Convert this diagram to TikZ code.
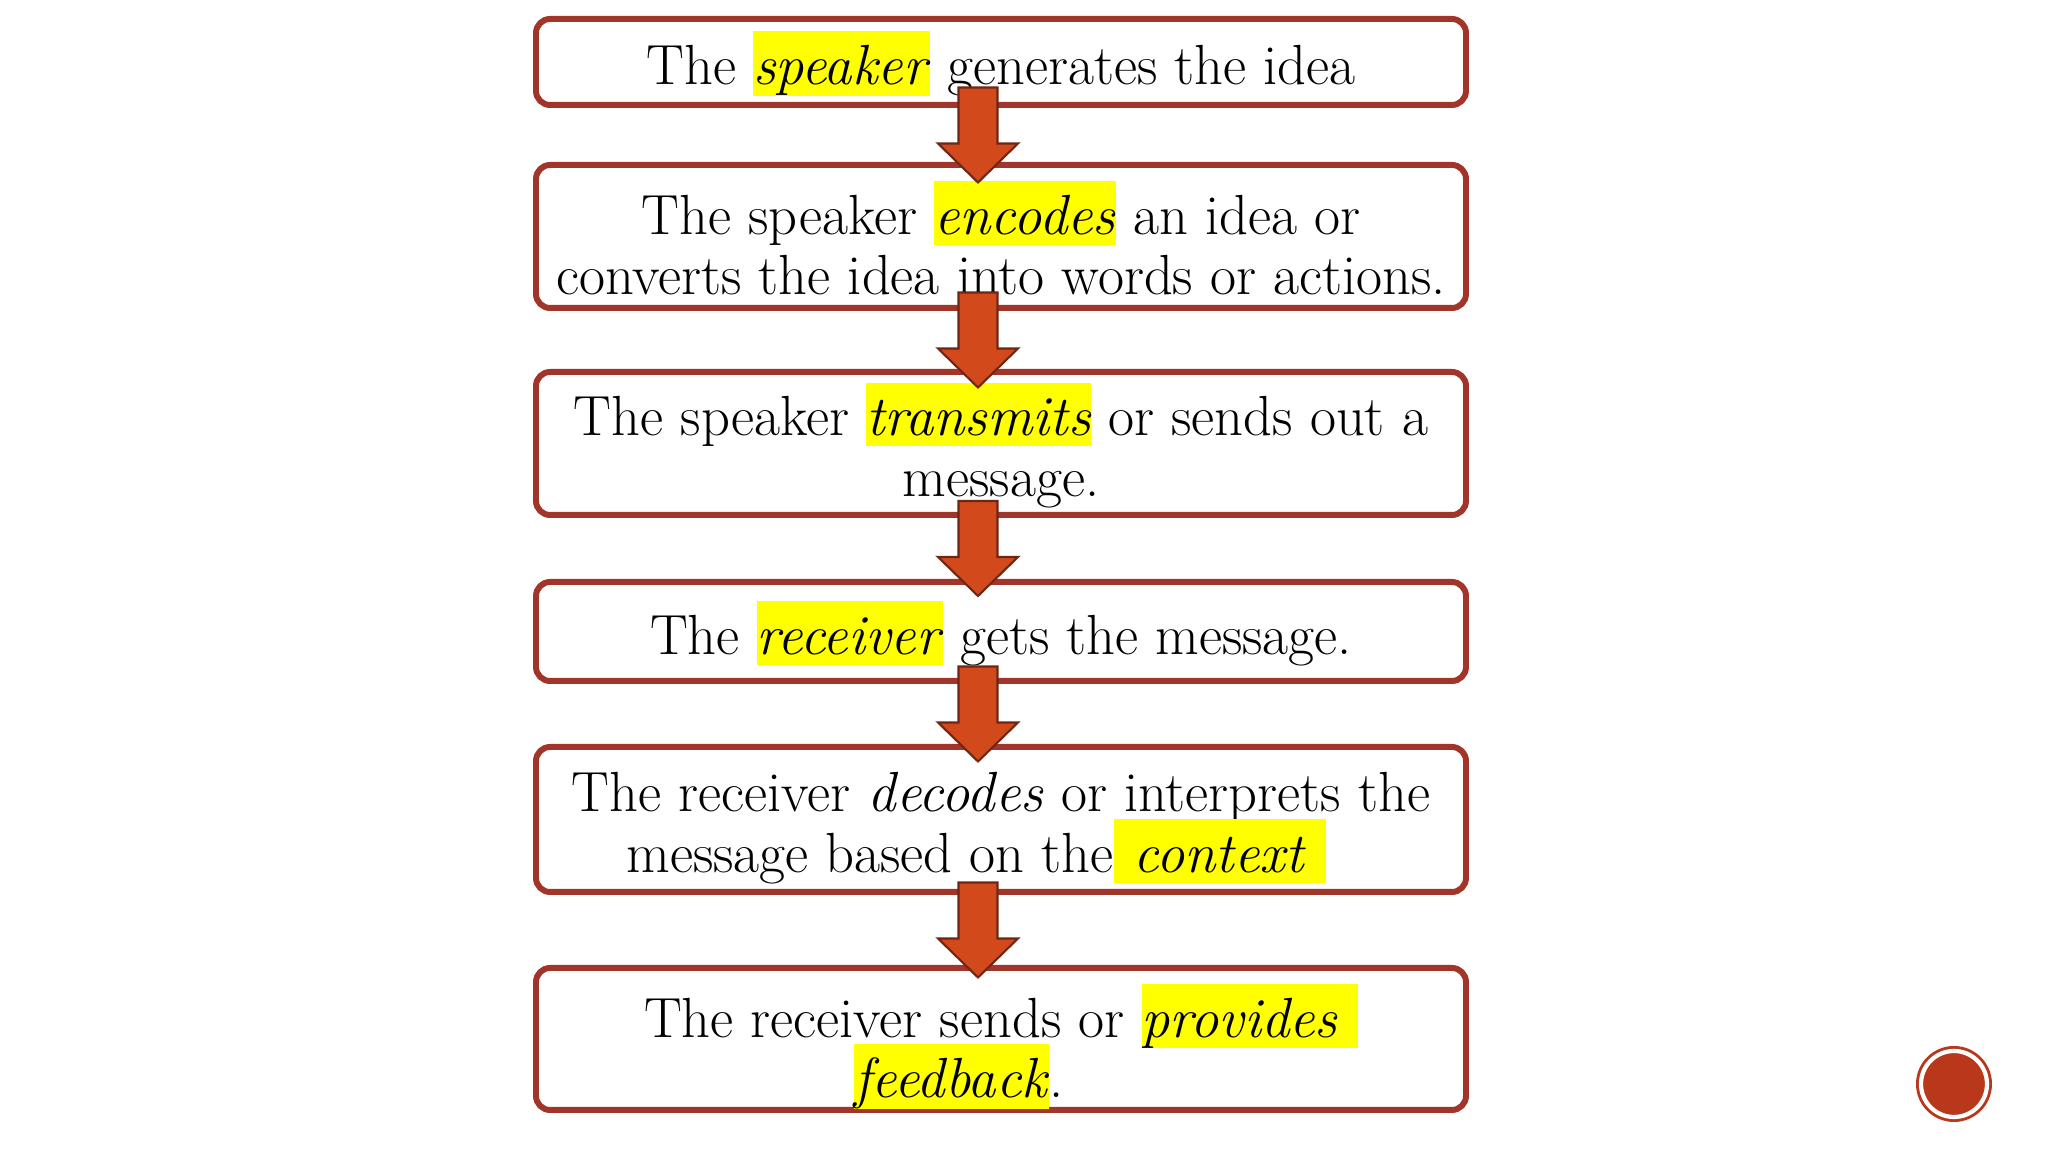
\documentclass[tikz,border=0pt]{standalone}
\usepackage{xcolor}
\usepackage{tikz}
\usetikzlibrary{calc}
\definecolor{frame}{HTML}{A1352A}
\definecolor{arrowfill}{HTML}{D2491B}
\definecolor{arrowline}{HTML}{6E2714}
\definecolor{marker}{HTML}{FFFF00}
\definecolor{dot}{HTML}{B9381C}
\newcommand{\hl}[1]{{\setlength{\fboxsep}{0pt}\smash{\colorbox{marker}{\rule[-3pt]{0pt}{18.2pt}\textit{#1}}}}}
\newcommand{\up}{\rule{0pt}{16.2pt}}
\newcommand{\flowarrow}[2]{%
\draw[flow] ($(#1.south)!0.5!(#2.north)+(-0.425,0.475)$) -- ++(0.39,0) -- ++(0,-0.56) -- ++(0.205,0)
  -- ++(-0.4,-0.39) -- ++(-0.4,0.39) -- ++(0.205,0) -- cycle;}

\begin{document}
\begin{tikzpicture}[
  box/.style={draw=frame,line width=1.7pt,rounded corners=4pt,fill=white,minimum width=9.3cm,
    align=center,inner sep=0pt,font=\fontsize{16.1}{17.2}\selectfont},
  flow/.style={fill=arrowfill,draw=arrowline,line width=0.6pt,line join=miter}]
\useasboundingbox (0,0) rectangle (20.48,11.52);
\node[box,minimum height=0.86cm] (idea) at (10.01,10.90) {\up The \hl{speaker} generates the idea};
\node[box,minimum height=1.43cm] (encode) at (10.01,9.155) {\up The speaker \hl{encodes} an idea or\\converts the idea into words or actions.};
\node[box,minimum height=1.43cm] (send) at (10.01,7.085) {\up The speaker \hl{transmits} or sends out a\\message.};
\node[box,minimum height=0.99cm] (get) at (10.01,5.205) {\up The \hl{receiver} gets the message.};
\node[box,minimum height=1.45cm] (decode) at (10.01,3.325) {\up The receiver \textit{decodes} or interprets the\\message based on the\hl{\ context\ }\hspace*{0.5cm}};
\node[box,minimum height=1.42cm] (reply) at (10.01,1.13) {\up The receiver sends or \hl{provides\ }\\\hl{feedback}.\hspace*{0.84cm}};
% arrows between the steps
\flowarrow{idea}{encode}
\flowarrow{encode}{send}
\flowarrow{send}{get}
\flowarrow{get}{decode}
\flowarrow{decode}{reply}
% slide mark
\fill[dot] (19.54,0.68) circle (0.38);
\draw[white,line width=1.2pt] (19.54,0.68) circle (0.33);
\end{tikzpicture}
\end{document}
